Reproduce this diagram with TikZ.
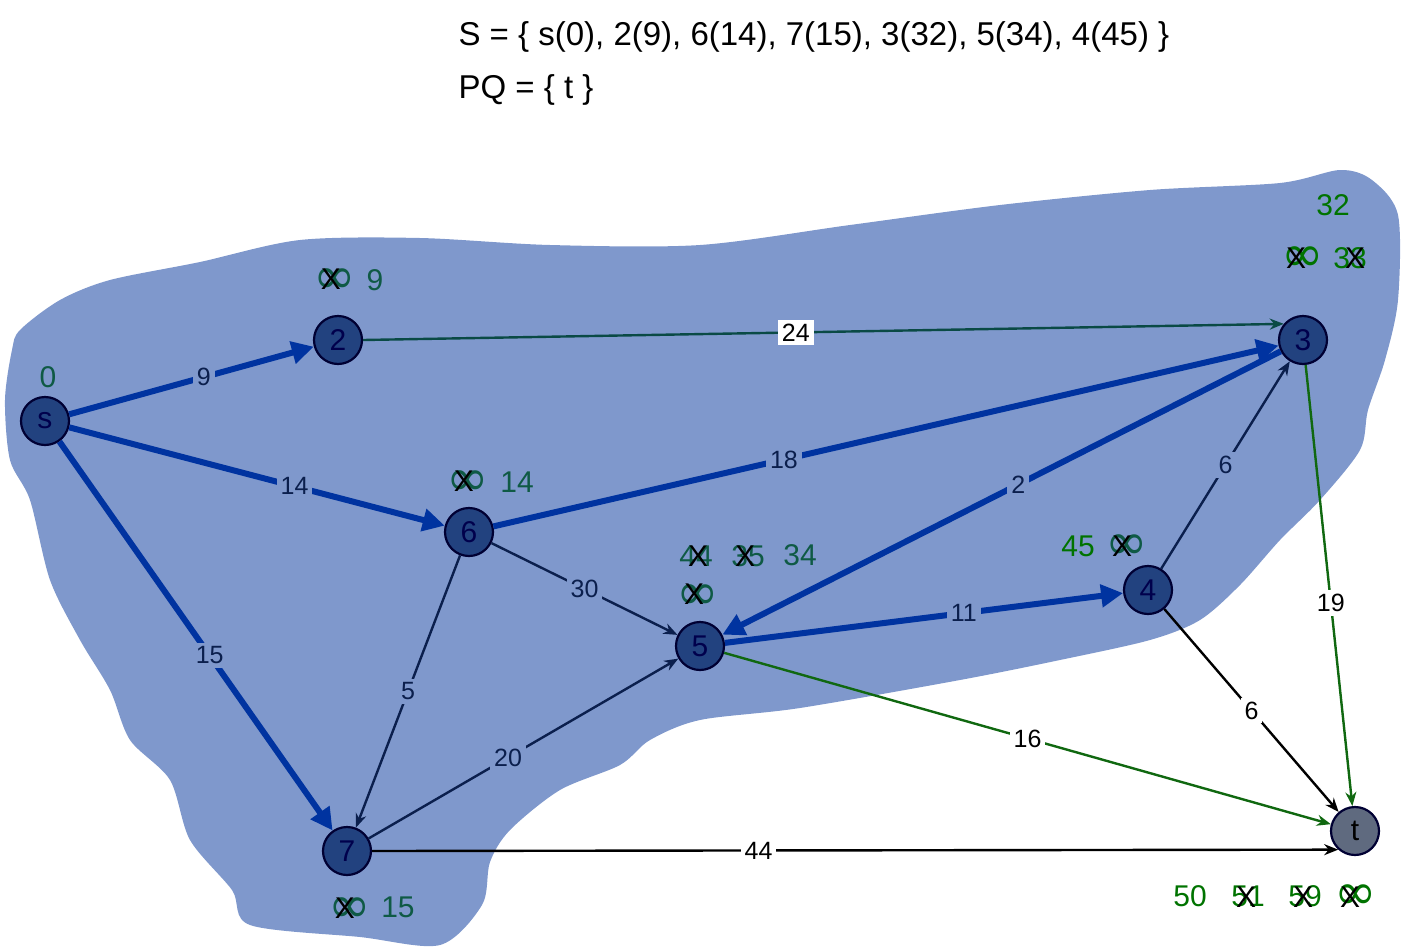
\documentclass[tikz,border=0pt]{standalone}
\usepackage{fontspec}
\setmainfont{Liberation Sans}
\newfontfamily\infont{DejaVu Sans}
\usetikzlibrary{arrows.meta}
\begin{document}
\begin{tikzpicture}[x=1pt,y=-1pt,
 vtx/.style={circle,draw=black!80!blue,line width=2.2pt,fill=nodeblue,minimum size=48pt,inner sep=0pt,font=\fontsize{30}{30}\selectfont,text=black!70!blue},
 heavy/.style={draw=thickblue,line width=6pt,-{Triangle[length=22pt,width=22pt]}},
 thin/.style={draw=navy,line width=2.4pt,-{Stealth[length=14pt,width=11pt]}},
 elab/.style={fill=blobblue,font=\fontsize{25}{25}\selectfont,text=navy,inner sep=4pt},
 wlab/.style={fill=white,font=\fontsize{25}{25}\selectfont,text=black,inner sep=4pt},
 dist/.style={font=\fontsize{30}{30}\selectfont,text=distgreen},
 dist2/.style={font=\fontsize{30}{30}\selectfont,text=green!45!black},
 xo/.style={font=\fontsize{30}{30}\selectfont,text=black}]
\definecolor{blobblue}{HTML}{7F98CC}
\definecolor{nodeblue}{HTML}{22427F}
\definecolor{thickblue}{HTML}{0033A0}
\definecolor{navy}{HTML}{0B1F4D}
\definecolor{distgreen}{HTML}{0F5A45}
\definecolor{tealedge}{HTML}{0A4A45}
\definecolor{gedge}{HTML}{106810}
\newcommand\infsym{\scalebox{1.7}{\infont ∞}}
\useasboundingbox (0,0) rectangle (1401,951);
\fill[blobblue] plot[smooth cycle,tension=0.5] coordinates{(20,330)(60,300)(110,280)(200,262)(300,240)(420,238)(550,245)(700,245)(850,225)(1000,205)(1150,190)(1280,183)(1340,170)(1372,180)(1398,215)(1398,300)(1385,360)(1368,410)(1360,450)(1320,500)(1280,540)(1240,585)(1200,620)(1150,640)(1060,660)(960,680)(800,708)(700,720)(650,740)(620,765)(560,790)(510,830)(490,862)(482,905)(440,945)(360,937)(250,925)(232,890)(190,840)(170,780)(130,740)(110,690)(80,640)(50,580)(30,500)(10,460)(5,400)(12,350)};
\node[font=\fontsize{33}{33}\selectfont,anchor=west] (S) at (455,37) {S = \{ s(0), 2(9), 6(14), 7(15), 3(32), 5(34), 4(45) \}};
\node[font=\fontsize{33}{33}\selectfont,anchor=west] (PQ) at (455,90) {PQ = \{ t \}};
\node[vtx] (s) at (45,421) {s};
\node[vtx] (n2) at (338,340) {2};
\node[vtx] (n3) at (1303,340) {3};
\node[vtx] (n6) at (469,532) {6};
\node[vtx] (n5) at (700,646) {5};
\node[vtx] (n4) at (1148,590) {4};
\node[vtx] (n7) at (347,851) {7};
\node[vtx,fill=gray!50!nodeblue!70!gray,text=black] (t) at (1355,831) {t};
% thin edges
\draw[thin] (n6) -- node[elab]{30} (n5);
\draw[thin] (n6) -- node[elab]{5} (n7);
\draw[thin] (n7) -- node[elab,pos=0.45]{20} (n5);
\draw[thin] (n4) -- node[elab]{6} (n3);
\draw[thin,draw=tealedge] (n2.east) -- node[wlab,pos=0.47]{24} (n3.140);
\draw[thin,draw=gedge] (n5) -- node[wlab]{16} (t);
\draw[thin,draw=gedge] (n3) -- node[wlab,pos=0.54]{19} (t);
\draw[thin,draw=black] (n4) -- node[wlab]{6} (t);
\draw[thin,draw=black] (n7.east) -- node[wlab,pos=0.4]{44} (t.228);
% heavy
\draw[heavy] (s) -- node[elab,pos=0.55]{9} (n2);
\draw[heavy] (s) -- node[elab,pos=0.6]{14} (n6);
\draw[heavy] (s) -- node[elab,pos=0.55]{15} (n7);
\draw[heavy] (n6) -- node[elab,pos=0.37]{18} (n3);
\draw[heavy] (n3) -- node[elab,pos=0.47]{2} (n5);
\draw[heavy] (n5) -- node[elab,pos=0.6]{11} (n4);
% distances
\node[dist] (ds) at (48,377) {0};
\node[dist] (d2a) at (335,281) {\infsym}; \node[xo] at (331,279) {X}; \node[dist] (d2) at (375,280) {9};
\node[dist] (d6a) at (468,483) {\infsym}; \node[xo] at (464,481) {X}; \node[dist] (d6) at (517,482) {14};
\node[dist] (d7a) at (350,910) {\infsym}; \node[xo] at (345,908) {X}; \node[dist] (d7) at (398,907) {15};
\node[dist] (d5a) at (698,597) {\infsym}; \node[xo] at (694,594) {X};
\node[dist] (d5b) at (696,556) {44}; \node[xo] at (698,556) {X};
\node[dist] (d5c) at (748,556) {35}; \node[xo] at (745,556) {X};
\node[dist] (d5) at (800,555) {34};
\node[dist2] (d4) at (1078,546) {45}; \node[dist] (d4a) at (1127,547) {\infsym}; \node[xo] at (1122,546) {X};
\node[dist2] (d3) at (1333,205) {32};
\node[dist2] (d3a) at (1303,259) {\infsym}; \node[xo] at (1296,258) {X};
\node[dist2] (d3b) at (1350,258) {33}; \node[xo] at (1355,258) {X};
\node[dist2] (dt1) at (1190,896) {50};
\node[dist2] (dt2) at (1248,896) {51}; \node[xo] at (1246,897) {X};
\node[dist2] (dt3) at (1305,896) {59}; \node[xo] at (1303,897) {X};
\node[dist2] (dt4) at (1356,897) {\infsym}; \node[xo] at (1350,897) {X};
\end{tikzpicture}
\end{document}
